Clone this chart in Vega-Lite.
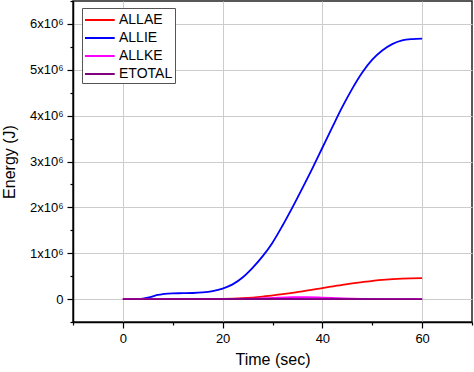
{
  "$schema": "https://vega.github.io/schema/vega-lite/v6.json",
  "width": 399,
  "height": 321,
  "autosize": "none",
  "padding": {"left": 73, "top": 1, "right": 2, "bottom": 50},
  "background": "white",
  "config": {
    "font": "Liberation Sans",
    "view": {"stroke": "#222", "strokeWidth": 1.5}
  },
  "datasets": {
    "curves": [
      {"t": 0, "s": "ALLIE", "E": 0}, {"t": 2, "s": "ALLIE", "E": 0}, {"t": 3, "s": "ALLIE", "E": 2000},
      {"t": 4, "s": "ALLIE", "E": 10000}, {"t": 5, "s": "ALLIE", "E": 30000}, {"t": 6, "s": "ALLIE", "E": 60000},
      {"t": 7, "s": "ALLIE", "E": 90000}, {"t": 8, "s": "ALLIE", "E": 110000}, {"t": 9, "s": "ALLIE", "E": 120000},
      {"t": 10, "s": "ALLIE", "E": 125000}, {"t": 12, "s": "ALLIE", "E": 128000}, {"t": 14, "s": "ALLIE", "E": 132000},
      {"t": 16, "s": "ALLIE", "E": 145000}, {"t": 18, "s": "ALLIE", "E": 175000}, {"t": 20, "s": "ALLIE", "E": 230000},
      {"t": 22, "s": "ALLIE", "E": 320000}, {"t": 24, "s": "ALLIE", "E": 470000}, {"t": 26, "s": "ALLIE", "E": 680000},
      {"t": 28, "s": "ALLIE", "E": 930000}, {"t": 30, "s": "ALLIE", "E": 1230000}, {"t": 32, "s": "ALLIE", "E": 1600000},
      {"t": 34, "s": "ALLIE", "E": 2000000}, {"t": 36, "s": "ALLIE", "E": 2420000}, {"t": 38, "s": "ALLIE", "E": 2850000},
      {"t": 40, "s": "ALLIE", "E": 3300000}, {"t": 42, "s": "ALLIE", "E": 3750000}, {"t": 44, "s": "ALLIE", "E": 4190000},
      {"t": 46, "s": "ALLIE", "E": 4590000}, {"t": 48, "s": "ALLIE", "E": 4940000}, {"t": 50, "s": "ALLIE", "E": 5220000},
      {"t": 52, "s": "ALLIE", "E": 5420000}, {"t": 54, "s": "ALLIE", "E": 5560000}, {"t": 56, "s": "ALLIE", "E": 5640000},
      {"t": 58, "s": "ALLIE", "E": 5670000}, {"t": 60, "s": "ALLIE", "E": 5680000},
      {"t": 0, "s": "ALLAE", "E": 0}, {"t": 10, "s": "ALLAE", "E": 0}, {"t": 16, "s": "ALLAE", "E": 1000},
      {"t": 20, "s": "ALLAE", "E": 5000}, {"t": 24, "s": "ALLAE", "E": 20000}, {"t": 28, "s": "ALLAE", "E": 55000},
      {"t": 32, "s": "ALLAE", "E": 110000}, {"t": 36, "s": "ALLAE", "E": 170000}, {"t": 40, "s": "ALLAE", "E": 240000},
      {"t": 44, "s": "ALLAE", "E": 310000}, {"t": 48, "s": "ALLAE", "E": 370000}, {"t": 52, "s": "ALLAE", "E": 420000},
      {"t": 56, "s": "ALLAE", "E": 448000}, {"t": 60, "s": "ALLAE", "E": 455000},
      {"t": 0, "s": "ALLKE", "E": 0}, {"t": 20, "s": "ALLKE", "E": 0}, {"t": 26, "s": "ALLKE", "E": 8000},
      {"t": 30, "s": "ALLKE", "E": 25000}, {"t": 34, "s": "ALLKE", "E": 40000}, {"t": 37, "s": "ALLKE", "E": 42000},
      {"t": 40, "s": "ALLKE", "E": 32000}, {"t": 44, "s": "ALLKE", "E": 15000}, {"t": 48, "s": "ALLKE", "E": 4000},
      {"t": 52, "s": "ALLKE", "E": 0}, {"t": 60, "s": "ALLKE", "E": 0},
      {"t": 0, "s": "ETOTAL", "E": 0}, {"t": 30, "s": "ETOTAL", "E": 2000}, {"t": 60, "s": "ETOTAL", "E": 0}
    ]
  },
  "data": {"name": "curves"},
  "mark": {"type": "line", "interpolate": "monotone", "strokeWidth": 1.8, "clip": true},
  "encoding": {
    "x": {
      "field": "t", "type": "quantitative",
      "scale": {"domain": [-10, 70], "nice": false, "zero": false},
      "axis": {
        "title": "Time (sec)", "titleFontSize": 16, "titleFontWeight": "normal", "titleColor": "#000", "titlePadding": 6,
        "values": [-10, 0, 10, 20, 30, 40, 50, 60, 70],
        "labelExpr": "datum.value % 20 == 0 && datum.value >= 0 && datum.value <= 60 ? datum.label : ''",
        "labelFontSize": 13, "labelColor": "#000", "labelPadding": 4,
        "domainColor": "#000", "domainWidth": 1.5,
        "tickColor": "#000", "tickWidth": 1.2,
        "tickSize": {"condition": {"test": "datum.value % 20 == 0 && datum.value >= 0 && datum.value <= 60", "value": 6}, "value": 3},
        "grid": true, "gridColor": "#cccccc", "gridWidth": 1,
        "gridOpacity": {"condition": {"test": "datum.value % 20 == 0 && datum.value >= 0 && datum.value <= 60", "value": 1}, "value": 0}
      }
    },
    "y": {
      "field": "E", "type": "quantitative",
      "scale": {"domain": [-500000, 6500000], "nice": false, "zero": false},
      "axis": {
        "title": "Energy (J)", "titleFontSize": 16, "titleFontWeight": "normal", "titleColor": "#000", "titlePadding": 12,
        "values": [-500000, 0, 500000, 1000000, 1500000, 2000000, 2500000, 3000000, 3500000, 4000000, 4500000, 5000000, 5500000, 6000000, 6500000],
        "labelExpr": "datum.value % 1000000 != 0 || datum.value < 0 ? '' : (datum.value == 0 ? '0' : (datum.value / 1000000) + 'x10⁶')",
        "labelFontSize": 13, "labelColor": "#000", "labelPadding": 4,
        "domainColor": "#000", "domainWidth": 1.5,
        "tickColor": "#000", "tickWidth": 1.2,
        "tickSize": {"condition": {"test": "datum.value % 1000000 == 0 && datum.value >= 0", "value": 6}, "value": 3},
        "grid": true, "gridColor": "#cccccc", "gridWidth": 1,
        "gridOpacity": {"condition": {"test": "datum.value % 1000000 == 0 && datum.value >= 0", "value": 1}, "value": 0}
      }
    },
    "color": {
      "field": "s", "type": "nominal",
      "scale": {"domain": ["ALLAE", "ALLIE", "ALLKE", "ETOTAL"], "range": ["#ff0000", "#0000ff", "#ff00ff", "#800080"]},
      "legend": {
        "title": null, "orient": "none", "legendX": 9, "legendY": 7,
        "symbolType": "M-1,0H2.3", "symbolSize": 324, "symbolStrokeWidth": 2,
        "labelFontSize": 14, "labelColor": "#000", "labelOffset": 15,
        "rowPadding": 1, "padding": 2,
        "strokeColor": "#555", "fillColor": "white"
      }
    }
  }
}
